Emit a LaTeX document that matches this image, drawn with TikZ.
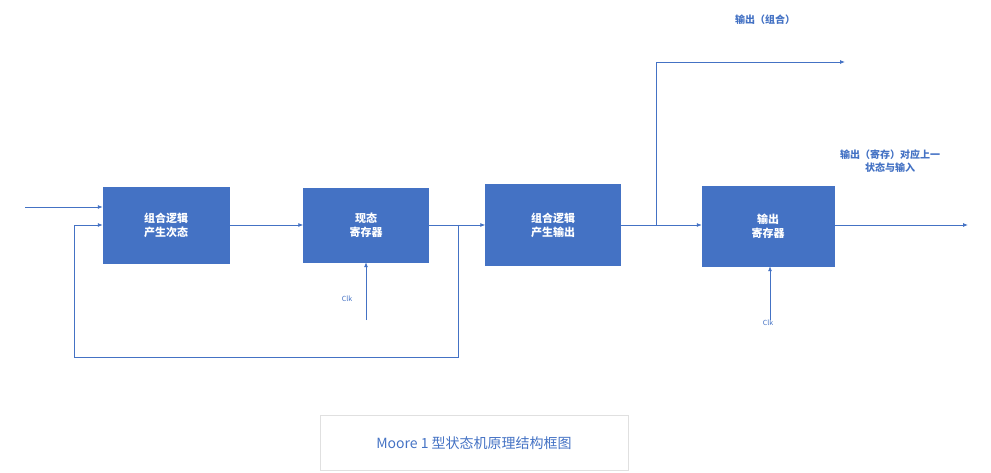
\documentclass[tikz,border=0pt]{standalone}
\usepackage{fontspec}
\setmainfont{Noto Sans CJK SC}
\usetikzlibrary{arrows.meta}
\definecolor{bl}{HTML}{4472C4}
\begin{document}
\begin{tikzpicture}[x=1pt,y=-1pt,
 blk/.style={draw=bl,fill=bl,text=white,font=\bfseries\fontsize{11}{14}\selectfont,align=center,inner sep=0},
 ln/.style={draw=bl,line width=0.8pt},
 ar/.style={ln,-{Latex[length=5pt,width=4pt]}},
 lbl/.style={text=bl,font=\bfseries\fontsize{10}{13}\selectfont,align=center}]
\useasboundingbox (0,0) rectangle (991,473);
\node[blk,minimum width=126,minimum height=76] (b1) at (166,225) {组合逻辑\\产生次态};
\node[blk,minimum width=125,minimum height=74] (b2) at (366,225) {现态\\寄存器};
\node[blk,minimum width=135,minimum height=81] (b3) at (553,225) {组合逻辑\\产生输出};
\node[blk,minimum width=132,minimum height=80] (b4) at (768,226) {输出\\寄存器};
\coordinate (in) at (25,207);
\draw[ar] (in) -- (b1.west |- in);
\draw[ar] (b1.east |- 0,225) -- (b2.west |- 0,225);
\coordinate (j1) at (458,225);
\draw[ln] (b2.east |- j1) -- (j1);
\draw[ar] (j1) -- (b3.west |- j1);
\coordinate (fb1) at (458,357); \coordinate (fb2) at (74,357); \coordinate (fb3) at (74,225);
\draw[ar] (j1) -- (fb1) -- (fb2) -- (fb3) -- (b1.west |- fb3);
\coordinate (j2) at (656,225);
\draw[ar] (b3.east |- j2) -- (b4.west |- j2);
\coordinate (up) at (656,62); \coordinate (oc) at (845,62);
\draw[ar] (j2) -- (up) -- (oc);
\coordinate (out) at (968,225);
\draw[ar] (b4.east |- out) -- (out);
\coordinate (c1) at (366,320); \coordinate (c2) at (770,320);
\draw[ar] (c1) -- (b2.south);
\draw[ar] (c2) -- (c2 |- b4.south);
\node[text=bl,font=\fontsize{7}{8}\selectfont] (k1) at (347,299) {Clk};
\node[text=bl,font=\fontsize{7}{8}\selectfont] (k2) at (768,323) {Clk};
\node[lbl] (l1) at (765,20) {输出（组合）};
\node[lbl] (l2) at (890,161) {输出（寄存）对应上一\\状态与输入};
\node[draw=black!12,text=bl,font=\fontsize{14}{16}\selectfont,minimum width=308,minimum height=55] (cap) at (474,443) {Moore 1 型状态机原理结构框图};
\end{tikzpicture}
\end{document}
